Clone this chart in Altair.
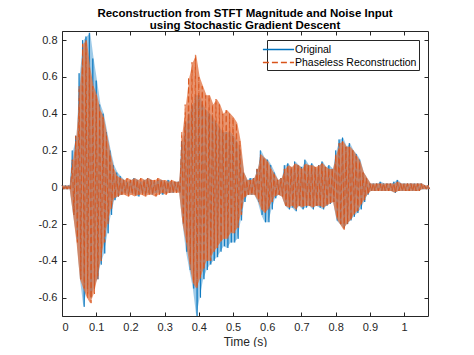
import altair as alt
import pandas as pd

# envelope values read at 0.01 s bins from 0.00 to 1.07 s
orig_upper = [0.01, 0.01, 0.01,
              0.2, 0.28, 0.62, 0.8, 0.82, 0.84, 0.7, 0.58, 0.45, 0.4, 0.3, 0.2, 0.12, 0.08, 0.06,
              0.04, 0.03, 0.04, 0.05, 0.04, 0.03, 0.04, 0.05, 0.04, 0.03, 0.04, 0.04, 0.03, 0.04, 0.03, 0.03, 0.03,
              0.25, 0.35, 0.4, 0.45, 0.5, 0.5, 0.45, 0.42, 0.4, 0.38, 0.35, 0.32, 0.3, 0.3, 0.3, 0.28, 0.25, 0.2, 0.08, 0.04,
              0.05, 0.05, 0.1, 0.2, 0.16, 0.15, 0.12, 0.08, 0.04, 0.05,
              0.12, 0.13, 0.1, 0.14, 0.12, 0.11, 0.15, 0.12, 0.13, 0.1, 0.12, 0.14, 0.11, 0.12, 0.1,
              0.2, 0.26, 0.27, 0.22, 0.24, 0.2, 0.18, 0.15, 0.08, 0.05, 0.02,
              0.02, 0.02, 0.03, 0.02, 0.02, 0.02, 0.03, 0.04, 0.02, 0.02, 0.02, 0.02, 0.02, 0.02, 0.02, 0.01, 0.01]
orig_lower = [-0.01, -0.01, -0.01,
              -0.15, -0.28, -0.5, -0.65, -0.55, -0.6, -0.55, -0.5, -0.42, -0.36, -0.25, -0.15, -0.07, -0.05, -0.04,
              -0.03, -0.04, -0.03, -0.04, -0.05, -0.03, -0.04, -0.03, -0.04, -0.03, -0.03, -0.04, -0.03, -0.03, -0.03, -0.02, -0.03,
              -0.2, -0.35, -0.45, -0.55, -0.7, -0.6, -0.5, -0.45, -0.42, -0.4, -0.38, -0.35, -0.32, -0.33, -0.3, -0.3, -0.28, -0.18, -0.08, -0.04,
              -0.04, -0.04, -0.08, -0.15, -0.19, -0.19, -0.12, -0.06, -0.04, -0.05,
              -0.1, -0.12, -0.11, -0.13, -0.1, -0.12, -0.11, -0.1, -0.12, -0.1, -0.11, -0.12, -0.1, -0.09, -0.08,
              -0.18, -0.2, -0.22, -0.2, -0.18, -0.16, -0.14, -0.12, -0.08, -0.04, -0.02,
              -0.02, -0.02, -0.02, -0.02, -0.02, -0.02, -0.03, -0.02, -0.02, -0.02, -0.02, -0.02, -0.02, -0.02, -0.01, -0.01, -0.01]
recon_upper = [0.01, 0.01, 0.01,
               0.15, 0.28, 0.55, 0.78, 0.8, 0.65, 0.55, 0.5, 0.42, 0.38, 0.28, 0.18, 0.1, 0.06, 0.05,
               0.04, 0.05, 0.04, 0.05, 0.04, 0.05, 0.04, 0.05, 0.04, 0.04, 0.05, 0.04, 0.04, 0.03, 0.04, 0.03, 0.03,
               0.3, 0.45, 0.6, 0.68, 0.72, 0.6, 0.55, 0.5, 0.5, 0.45, 0.48, 0.45, 0.4, 0.42, 0.4, 0.38, 0.35, 0.25, 0.08, 0.04,
               0.04, 0.05, 0.1, 0.18, 0.16, 0.14, 0.1, 0.07, 0.04, 0.05,
               0.1, 0.12, 0.11, 0.13, 0.12, 0.1, 0.13, 0.12, 0.12, 0.11, 0.12, 0.13, 0.11, 0.1, 0.1,
               0.18, 0.24, 0.25, 0.22, 0.22, 0.2, 0.17, 0.14, 0.08, 0.05, 0.02,
               0.02, 0.02, 0.02, 0.02, 0.02, 0.02, 0.02, 0.03, 0.02, 0.02, 0.02, 0.02, 0.02, 0.02, 0.02, 0.01, 0.01]
recon_lower = [-0.01, -0.01, -0.01,
               -0.15, -0.3, -0.5, -0.55, -0.6, -0.63, -0.58, -0.5, -0.4, -0.3, -0.2, -0.12, -0.06, -0.05, -0.04,
               -0.04, -0.05, -0.04, -0.05, -0.04, -0.04, -0.05, -0.04, -0.04, -0.05, -0.04, -0.03, -0.04, -0.03, -0.03, -0.03, -0.03,
               -0.2, -0.3, -0.42, -0.52, -0.55, -0.5, -0.45, -0.4, -0.4, -0.35, -0.33, -0.3, -0.28, -0.28, -0.25, -0.25, -0.22, -0.15, -0.06, -0.04,
               -0.04, -0.04, -0.07, -0.12, -0.14, -0.12, -0.08, -0.05, -0.04, -0.05,
               -0.1, -0.11, -0.1, -0.12, -0.1, -0.11, -0.1, -0.1, -0.11, -0.1, -0.1, -0.11, -0.1, -0.09, -0.08,
               -0.17, -0.2, -0.23, -0.2, -0.18, -0.15, -0.13, -0.1, -0.07, -0.04, -0.02,
               -0.02, -0.02, -0.02, -0.02, -0.02, -0.02, -0.03, -0.02, -0.02, -0.02, -0.02, -0.02, -0.02, -0.02, -0.01, -0.01, -0.01]

bin_width = 0.01
series_names = ["Original", "Phaseless Reconstruction"]
colors = ["#0072BD", "#D95319"]
band_colors = ["#4d9fd6", "#e0703e"]
x_ticks = [0, 0.1, 0.2, 0.3, 0.4, 0.5, 0.6, 0.7, 0.8, 0.9, 1]
y_ticks = [-0.6, -0.4, -0.2, 0, 0.2, 0.4, 0.6, 0.8]

W, H = 366, 285

rows = []
band_rows = []
for name, up, lo in [(series_names[0], orig_upper, orig_lower),
                     (series_names[1], recon_upper, recon_lower)]:
    k = 0
    for i in range(len(up)):
        t0 = i * bin_width
        rows.append({"series": name, "t": t0, "v": up[i], "k": k}); k += 1
        rows.append({"series": name, "t": t0 + bin_width / 2, "v": lo[i], "k": k}); k += 1
        band_rows.append({"series": name, "t": t0 + bin_width / 4, "up": up[i], "lo": lo[i]})
df = pd.DataFrame(rows)
bands = pd.DataFrame(band_rows)

label_fix = "replace(format(datum.value, '~g'), '\u2212', '-')"

x_scale = alt.Scale(domain=[0, 1.07], nice=False, zero=False)
y_scale = alt.Scale(domain=[-0.7, 0.85], nice=False, zero=False)
main_x_axis = alt.Axis(values=x_ticks, labelExpr=label_fix)
main_y_axis = alt.Axis(values=y_ticks, labelExpr=label_fix)
color_scale = alt.Scale(domain=series_names, range=colors)
dash_scale = alt.Scale(domain=series_names, range=[[1, 0], [6, 3]])


def tick_axis(vals, orient, offset):
    return alt.Axis(values=vals, orient=orient, offset=offset, labels=False, grid=False,
                    domain=False, ticks=True, tickSize=4, tickColor="#262626",
                    tickWidth=1, title=None)


def band(idx, opacity):
    return alt.Chart(bands).transform_filter(alt.datum.series == series_names[idx]).mark_area(
        opacity=opacity, interpolate="linear", color=band_colors[idx]
    ).encode(
        x=alt.X("t:Q", scale=x_scale, axis=None),
        y=alt.Y("up:Q", scale=y_scale, axis=None),
        y2="lo:Q",
    )


def wave(idx, with_axes):
    return alt.Chart(df).transform_filter(alt.datum.series == series_names[idx]).mark_line(
        strokeWidth=0.8
    ).encode(
        x=alt.X("t:Q", title="Time (s)", scale=x_scale,
                axis=main_x_axis if with_axes else None),
        y=alt.Y("v:Q", title=None, scale=y_scale,
                axis=main_y_axis if with_axes else None),
        color=alt.Color("series:N", scale=color_scale,
                        legend=alt.Legend(title=None, orient="top-right")),
        strokeDash=alt.StrokeDash("series:N", scale=dash_scale,
                                  legend=alt.Legend(title=None, orient="top-right")),
        order="k:Q",
    )


def ticks(x_orient, y_orient):
    return alt.Chart(bands).mark_point(opacity=0).encode(
        x=alt.X("t:Q", scale=x_scale, axis=tick_axis(x_ticks, x_orient, -H)),
        y=alt.Y("up:Q", scale=y_scale, axis=tick_axis(y_ticks, y_orient, -W)),
    )


chart = alt.layer(
    band(0, 0.55), wave(0, True),
    band(1, 0.75), wave(1, False),
    ticks("top", "right"), ticks("bottom", "left"),
).resolve_axis(x="independent", y="independent").properties(
    width=W, height=H,
    autosize="none",
    padding={"left": 54, "top": 23, "right": 38, "bottom": 31},
    title=alt.Title(["Reconstruction from STFT Magnitude and Noise Input",
                     "using Stochastic Gradient Descent"],
                    font="Liberation Sans", fontSize=11.5, fontWeight="bold",
                    color="#000000", anchor="middle", offset=-1, lineHeight=12),
).configure_view(
    stroke="#262626", strokeWidth=1
).configure_axis(
    labelFont="Liberation Sans", labelFontSize=11, labelColor="#262626",
    titleFont="Liberation Sans", titleFontSize=12, titleColor="#262626", titleFontWeight="normal",
    gridColor="#e0e0e0", gridWidth=1, domain=False, ticks=False, labelPadding=5,
).configure_axisX(titlePadding=4).configure_legend(
    fillColor="white", strokeColor="#262626", padding=2, offset=9,
    labelFont="Liberation Sans", labelFontSize=10.5, labelColor="#000000",
    symbolType="M-2.4,0H2.4", symbolSize=169, symbolStrokeWidth=1.5, rowPadding=0,
    symbolOffset=2, labelOffset=9,
)

chart.save("out.html", embed_options={"renderer": "svg", "actions": False})
